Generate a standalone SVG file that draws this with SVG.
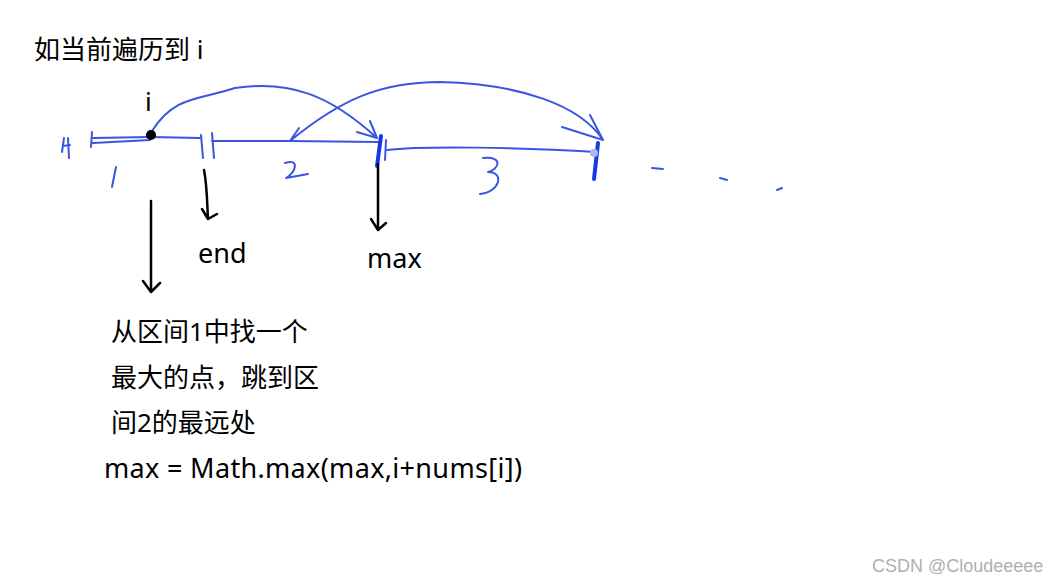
<svg xmlns="http://www.w3.org/2000/svg" width="1062" height="582" viewBox="0 0 1062 582">
<style>
.t{font-family:"Noto Sans","Noto Sans CJK SC",sans-serif;fill:#000}
.c{font-size:26px}
.l{font-size:27px}
.b{fill:none;stroke:#3b55e0;stroke-width:2;stroke-linecap:round;stroke-linejoin:round}
.bh{fill:none;stroke:#1638e8;stroke-width:4;stroke-linecap:round}
.k{fill:none;stroke:#000;stroke-width:2.5;stroke-linecap:round;stroke-linejoin:round}
</style>
<rect width="1062" height="582" fill="#fff"/>
<text class="t c" x="34" y="59">如当前遍历到 i</text>
<g id="number-line">
<path class="b" d="M62,152 L64,138 M63,146 L70,145 M68,138 L69,158"/>
<path class="b" d="M92,132 L91,147 M93,138 L150,137 M93,143 L150,140"/>
<path class="b" d="M150,137 L200,138 M212,141 L240,141 L290,141 L378,142"/>
<path class="b" d="M201,135 L203,158 M212,133 L214,158"/>
<path class="b" d="M387,150 C420,146 520,147 596,152"/>
<path class="b" d="M386,140 L385,160"/>
<path class="bh" d="M381,136 L377,166"/>
<path class="bh" d="M598,143 L594,179"/>
<circle cx="594" cy="153" r="4" fill="#a9b8f5"/>
<path class="b" d="M116,167 L112,187"/>
<path class="b" d="M285,163 C300,158 296,172 286,178 L308,174"/>
<path class="b" d="M483,158 C505,156 498,170 488,172 C505,172 500,192 480,194"/>
<path class="b" d="M652,168 L663,169 M720,178 L727,180 M777,190 L782,188"/>
</g>
<g id="connectors">
<path class="b" d="M152,131 C175,95 200,100 235,88 C290,80 330,95 377,138 M357,132 L377,138 M370,121 L377,138"/>
<path class="b" d="M290,141 C340,100 380,82 440,82 C520,84 580,105 603,140 M299,128 L290,141 M562,127 L603,140 M590,115 L603,140"/>
<path class="k" d="M151,201 L151,292 M143,281 L151,292 L160,283"/>
<path class="k" d="M204,170 C207,185 207,200 208,219 M202,209 L208,219 L217,214"/>
<path class="k" d="M378,164 L378,230 M371,219 L378,230 L386,223"/>
</g>
<circle cx="151" cy="135" r="5" fill="#000"/>
<text class="t c" x="145" y="111">i</text>
<text class="t l" x="198" y="263">end</text>
<text class="t l" x="367" y="268">max</text>
<text class="t c" x="111" y="341">从区间1中找一个</text>
<text class="t c" x="111" y="387">最大的点，跳到区</text>
<text class="t c" x="111" y="432">间2的最远处</text>
<text class="t l" x="104" y="478" textLength="418" lengthAdjust="spacing">max = Math.max(max,i+nums[i])</text>
<text x="872" y="572" font-size="18" font-family="'Liberation Sans',Arial,sans-serif" fill="#b0b0b0">CSDN @Cloudeeeee</text>
</svg>
